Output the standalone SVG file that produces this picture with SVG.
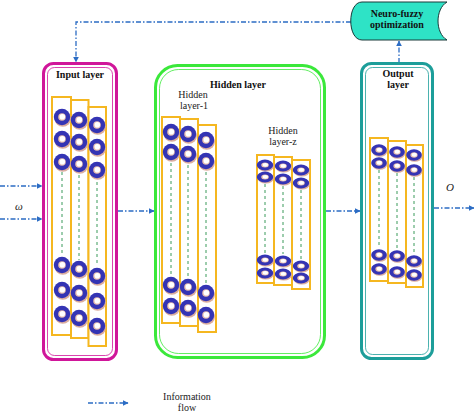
<svg xmlns="http://www.w3.org/2000/svg" xmlns:xlink="http://www.w3.org/1999/xlink" width="474" height="412" viewBox="0 0 474 412">
<style>
.flow{fill:none;stroke:#2b6cc4;stroke-width:1.3;stroke-dasharray:5 2 1.5 2}
.col{fill:#fff;stroke:#f5b720;stroke-width:2}
.dash{stroke:#3a9a5a;stroke-width:1;stroke-dasharray:3 3}
.title{font-family:"Liberation Serif",serif;font-weight:bold;font-size:10px;fill:#111;text-anchor:middle}
.lbl{font-family:"Liberation Serif",serif;font-size:10px;fill:#222;text-anchor:middle}
.ital{font-family:"Liberation Serif",serif;font-style:italic;font-size:11px;fill:#222;text-anchor:middle}
</style>
<defs>
<marker id="ah" viewBox="0 0 10 10" refX="9" refY="5" markerWidth="6" markerHeight="6" orient="auto" markerUnits="userSpaceOnUse">
<path d="M0,0 L10,5 L0,10 Z" fill="#2b6cc4"/>
</marker>
<g id="dn">
<circle cx="0.8" cy="1.6" r="8.2" fill="#dcae9e"/>
<circle r="8.2" fill="#3434b4"/>
<circle r="3.8" fill="#e6bcae"/>
<circle cx="0.3" cy="-0.3" r="2.8" fill="#fff"/>
</g>
</defs>

<g id="connectors">
<path class="flow" d="M351,22 H76 V62" marker-end="url(#ah)"/>
<path class="flow" d="M399,63 V41" marker-end="url(#ah)"/>
<path class="flow" d="M0,186 H42" marker-end="url(#ah)"/>
<path class="flow" d="M0,219 H42" marker-end="url(#ah)"/>
<path class="flow" d="M118,211 H154" marker-end="url(#ah)"/>
<path class="flow" d="M217,219 H256" marker-end="url(#ah)"/>
<path class="flow" d="M326,211 H360" marker-end="url(#ah)"/>
<path class="flow" d="M434,208 H474" marker-end="url(#ah)"/>
<path class="flow" d="M88,403 H128" marker-end="url(#ah)"/>
</g>

<g id="neuro-fuzzy">
<path d="M362,2 H447 C435,9 435,33 447,40 H362 C347,40 347,2 362,2 Z" fill="#2ee3c6" stroke="#1a3a3a" stroke-width="1"/>
<text class="title" x="397" y="17">Neuro-fuzzy</text>
<text class="title" x="397" y="28">optimization</text>
</g>

<g id="input-layer">
<rect x="43.5" y="63.5" width="73" height="296" rx="10" fill="#fff" stroke="#d0169a" stroke-width="3"/>
<rect x="47.5" y="67.5" width="65" height="288" rx="7" fill="none" stroke="#d0169a" stroke-width="0.8"/>
<text class="title" x="80" y="78">Input layer</text>
<rect class="col" x="52" y="97" width="19" height="238"/>
<rect class="col" x="71" y="100" width="17.5" height="238"/>
<rect class="col" x="88.5" y="107" width="17.5" height="239"/>
<line class="dash" x1="62" y1="172" x2="62" y2="256"/>
<line class="dash" x1="79" y1="175" x2="79" y2="260"/>
<line class="dash" x1="97" y1="182" x2="97" y2="266"/>
<use xlink:href="#dn" x="62" y="117"/><use xlink:href="#dn" x="62" y="139"/><use xlink:href="#dn" x="62" y="162"/>
<use xlink:href="#dn" x="79" y="120"/><use xlink:href="#dn" x="79" y="142"/><use xlink:href="#dn" x="79" y="164"/>
<use xlink:href="#dn" x="97" y="125"/><use xlink:href="#dn" x="97" y="147"/><use xlink:href="#dn" x="97" y="170"/>
<use xlink:href="#dn" x="62" y="265"/><use xlink:href="#dn" x="62" y="290"/><use xlink:href="#dn" x="62" y="314"/>
<use xlink:href="#dn" x="79" y="269"/><use xlink:href="#dn" x="79" y="293"/><use xlink:href="#dn" x="79" y="318"/>
<use xlink:href="#dn" x="97" y="276"/><use xlink:href="#dn" x="97" y="301"/><use xlink:href="#dn" x="97" y="326"/>
</g>

<g id="hidden-layer">
<rect x="155.5" y="65.5" width="169" height="292" rx="22" fill="#fff" stroke="#3be83b" stroke-width="3"/>
<rect x="159.5" y="69.5" width="161" height="284" rx="19" fill="none" stroke="#3be83b" stroke-width="0.8"/>
<text class="title" x="238" y="88">Hidden layer</text>
</g>

<g id="hidden-layer-1">
<text class="lbl" x="193" y="98">Hidden</text>
<text class="lbl" x="194" y="109">layer-1</text>
<rect class="col" x="162" y="117" width="18" height="206"/>
<rect class="col" x="180" y="119" width="18" height="207"/>
<rect class="col" x="198" y="125" width="18" height="207"/>
<line class="dash" x1="171" y1="163" x2="171" y2="276"/>
<line class="dash" x1="188" y1="165" x2="188" y2="278"/>
<line class="dash" x1="206" y1="172" x2="206" y2="284"/>
<use xlink:href="#dn" x="171" y="132"/><use xlink:href="#dn" x="171" y="152"/>
<use xlink:href="#dn" x="188" y="134"/><use xlink:href="#dn" x="188" y="154"/>
<use xlink:href="#dn" x="206" y="140"/><use xlink:href="#dn" x="206" y="161"/>
<use xlink:href="#dn" x="171" y="285"/><use xlink:href="#dn" x="171" y="306"/>
<use xlink:href="#dn" x="188" y="287"/><use xlink:href="#dn" x="188" y="308"/>
<use xlink:href="#dn" x="206" y="293"/><use xlink:href="#dn" x="206" y="315"/>
</g>

<g id="hidden-layer-z">
<text class="lbl" x="283" y="134">Hidden</text>
<text class="lbl" x="283" y="145">layer-z</text>
<rect class="col" x="257" y="155" width="17" height="128"/>
<rect class="col" x="274" y="157" width="18" height="128"/>
<rect class="col" x="292" y="160" width="18" height="129"/>
<line class="dash" x1="265" y1="184" x2="265" y2="253"/>
<line class="dash" x1="283" y1="186" x2="283" y2="254"/>
<line class="dash" x1="301" y1="190" x2="301" y2="259"/>
<use xlink:href="#dn" transform="translate(265,165) scale(1,0.66)"/><use xlink:href="#dn" transform="translate(265,177) scale(1,0.66)"/>
<use xlink:href="#dn" transform="translate(283,166) scale(1,0.66)"/><use xlink:href="#dn" transform="translate(283,179) scale(1,0.66)"/>
<use xlink:href="#dn" transform="translate(301,170) scale(1,0.66)"/><use xlink:href="#dn" transform="translate(301,183) scale(1,0.66)"/>
<use xlink:href="#dn" transform="translate(265,260) scale(1,0.66)"/><use xlink:href="#dn" transform="translate(265,273) scale(1,0.66)"/>
<use xlink:href="#dn" transform="translate(283,261) scale(1,0.66)"/><use xlink:href="#dn" transform="translate(283,274) scale(1,0.66)"/>
<use xlink:href="#dn" transform="translate(301,266) scale(1,0.66)"/><use xlink:href="#dn" transform="translate(301,278) scale(1,0.66)"/>
</g>

<g id="output-layer">
<rect x="361.5" y="63.5" width="71" height="295" rx="10" fill="#fff" stroke="#1d9e9a" stroke-width="3"/>
<rect x="365.5" y="67.5" width="63" height="287" rx="7" fill="none" stroke="#1d9e9a" stroke-width="0.8"/>
<text class="title" x="398" y="77">Output</text>
<text class="title" x="398" y="88">layer</text>
<rect class="col" x="370" y="138" width="18" height="143"/>
<rect class="col" x="388" y="141" width="18" height="142"/>
<rect class="col" x="406" y="145" width="17" height="142"/>
<line class="dash" x1="379" y1="170" x2="379" y2="248"/>
<line class="dash" x1="397" y1="173" x2="397" y2="249"/>
<line class="dash" x1="414" y1="177" x2="414" y2="254"/>
<use xlink:href="#dn" transform="translate(379,150) scale(0.95,0.7)"/><use xlink:href="#dn" transform="translate(379,163) scale(0.95,0.7)"/>
<use xlink:href="#dn" transform="translate(397,152) scale(0.95,0.7)"/><use xlink:href="#dn" transform="translate(397,166) scale(0.95,0.7)"/>
<use xlink:href="#dn" transform="translate(414,155) scale(0.95,0.7)"/><use xlink:href="#dn" transform="translate(414,170) scale(0.95,0.7)"/>
<use xlink:href="#dn" transform="translate(379,255) scale(0.95,0.7)"/><use xlink:href="#dn" transform="translate(379,269) scale(0.95,0.7)"/>
<use xlink:href="#dn" transform="translate(397,256) scale(0.95,0.7)"/><use xlink:href="#dn" transform="translate(397,272) scale(0.95,0.7)"/>
<use xlink:href="#dn" transform="translate(414,261) scale(0.95,0.7)"/><use xlink:href="#dn" transform="translate(414,275) scale(0.95,0.7)"/>
</g>

<text class="ital" x="19" y="210">ω</text>
<text class="ital" x="450" y="191">O</text>
<text class="lbl" x="187" y="400">Information</text>
<text class="lbl" x="187" y="411">flow</text>
</svg>
